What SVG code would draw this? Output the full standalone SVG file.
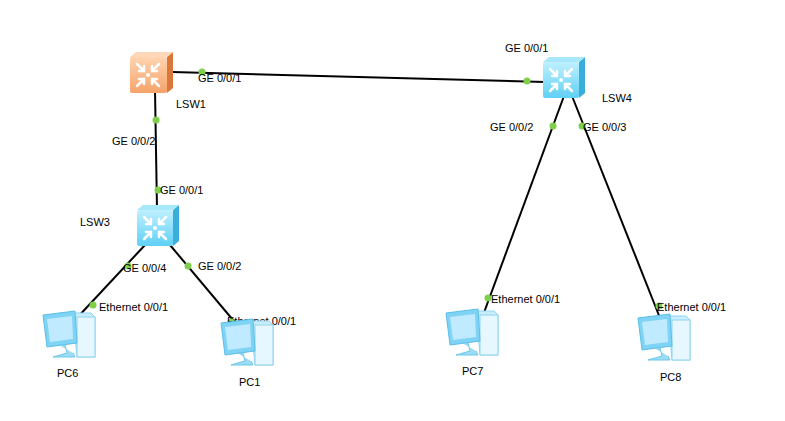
<svg xmlns="http://www.w3.org/2000/svg" width="785" height="421" viewBox="0 0 785 421">
<defs>
<linearGradient id="gb" x1="0" y1="0" x2="0" y2="1"><stop offset="0" stop-color="#bff0ff"/><stop offset="1" stop-color="#5fd0f5"/></linearGradient>
<linearGradient id="go" x1="0" y1="0" x2="0" y2="1"><stop offset="0" stop-color="#ffd4b0"/><stop offset="1" stop-color="#f5a36a"/></linearGradient>
<g id="arrows" stroke="#fff" stroke-width="2.5" fill="none" stroke-linecap="round">
<path d="M-11,-11 L-4,-4 M-4,-9 L-4,-4 L-9,-4"/>
<path d="M11,-11 L4,-4 M4,-9 L4,-4 L9,-4"/>
<path d="M-11,11 L-4,4 M-4,9 L-4,4 L-9,4"/>
<path d="M11,11 L4,4 M4,9 L4,4 L9,4"/>
<circle cx="0" cy="0" r="2" fill="#fff" stroke="none"/>
</g>
<g id="swb">
<path d="M18,-16 L24,-21 L24,15 L18,20 Z" fill="#3aaedb"/>
<path d="M-18,-16 L-12,-21 L24,-21 L18,-16 Z" fill="#a8e8fb"/>
<rect x="-18" y="-16" width="36" height="36" rx="2" fill="url(#gb)"/>
<use href="#arrows" y="2"/>
</g>
<g id="pc">
<path d="M8,-22 L26,-22 L30,-18 L30,22 L12,22 Z" fill="#c8eefc" stroke="#8fd3f0"/>
<rect x="12" y="-18" width="18" height="40" fill="#e6f7ff" stroke="#8fd3f0"/>
<path d="M-22,-20 L10,-24 L12,8 L-18,12 Z" fill="#7fd3f5" stroke="#5bbfe8"/>
<path d="M-18,-16 L7,-19 L8,4 L-15,7 Z" fill="#bfeaff"/>
<path d="M-6,10 L0,10 L2,18 L-12,22 L10,22 L8,18" fill="#9ddcf5" stroke="#6cc6ea"/>
</g>
</defs>
<style>
text{font-family:"Liberation Sans",Arial,sans-serif;font-size:11px;fill:#000}
.l{stroke:#000;stroke-width:2;fill:none}
.d{fill:#7ed04a}
</style>
<rect width="785" height="421" fill="#fff"/>
<g id="connectors">
<line class="l" x1="155" y1="90" x2="157" y2="210"/>
<line class="l" x1="172" y1="72" x2="545" y2="82"/>
<line class="l" x1="145" y1="245" x2="75" y2="320"/>
<line class="l" x1="170" y1="245" x2="238" y2="326"/>
<line class="l" x1="564" y1="96" x2="482" y2="318"/>
<line class="l" x1="572" y1="96" x2="660" y2="318"/>
<circle class="d" cx="202" cy="72" r="3.5"/>
<circle class="d" cx="527" cy="81" r="3.5"/>
<circle class="d" cx="156" cy="120" r="3.5"/>
<circle class="d" cx="158" cy="190" r="3.5"/>
<circle class="d" cx="128" cy="266" r="3.5"/>
<circle class="d" cx="188" cy="266" r="3.5"/>
<circle class="d" cx="93" cy="305" r="3.5"/>
<circle class="d" cx="231" cy="322" r="3.5"/>
<circle class="d" cx="488" cy="298" r="3.5"/>
<circle class="d" cx="553" cy="126" r="3.5"/>
<circle class="d" cx="582" cy="126" r="3.5"/>
<circle class="d" cx="659" cy="306" r="3.5"/>
<text x="198" y="82">GE 0/0/1</text>
<text x="505" y="52">GE 0/0/1</text>
<text x="112" y="145">GE 0/0/2</text>
<text x="160" y="194">GE 0/0/1</text>
<text x="123" y="272">GE 0/0/4</text>
<text x="198" y="270">GE 0/0/2</text>
<text x="99" y="311">Ethernet 0/0/1</text>
<text x="227" y="325">Ethernet 0/0/1</text>
<text x="491" y="303">Ethernet 0/0/1</text>
<text x="490" y="131">GE 0/0/2</text>
<text x="583" y="131">GE 0/0/3</text>
<text x="657" y="311">Ethernet 0/0/1</text>
</g>
<g id="LSW1">
<path d="M167,57 L173,52 L173,88 L167,93 Z" fill="#d9783a"/>
<path d="M130,57 L136,52 L173,52 L167,57 Z" fill="#ffd8bb"/>
<rect x="130" y="57" width="37" height="36" rx="2" fill="url(#go)"/>
<use href="#arrows" x="148" y="75"/>
<text x="176" y="108">LSW1</text>
</g>
<g id="LSW3"><use href="#swb" x="155" y="226"/><text x="80" y="226">LSW3</text></g>
<g id="LSW4"><use href="#swb" x="561" y="78"/><text x="602" y="102">LSW4</text></g>
<g id="PC6"><use href="#pc" x="65" y="335"/><text x="57" y="377">PC6</text></g>
<g id="PC1"><use href="#pc" x="243" y="343"/><text x="239" y="386">PC1</text></g>
<g id="PC7"><use href="#pc" x="468" y="333"/><text x="462" y="375">PC7</text></g>
<g id="PC8"><use href="#pc" x="660" y="338"/><text x="660" y="381">PC8</text></g>
</svg>
